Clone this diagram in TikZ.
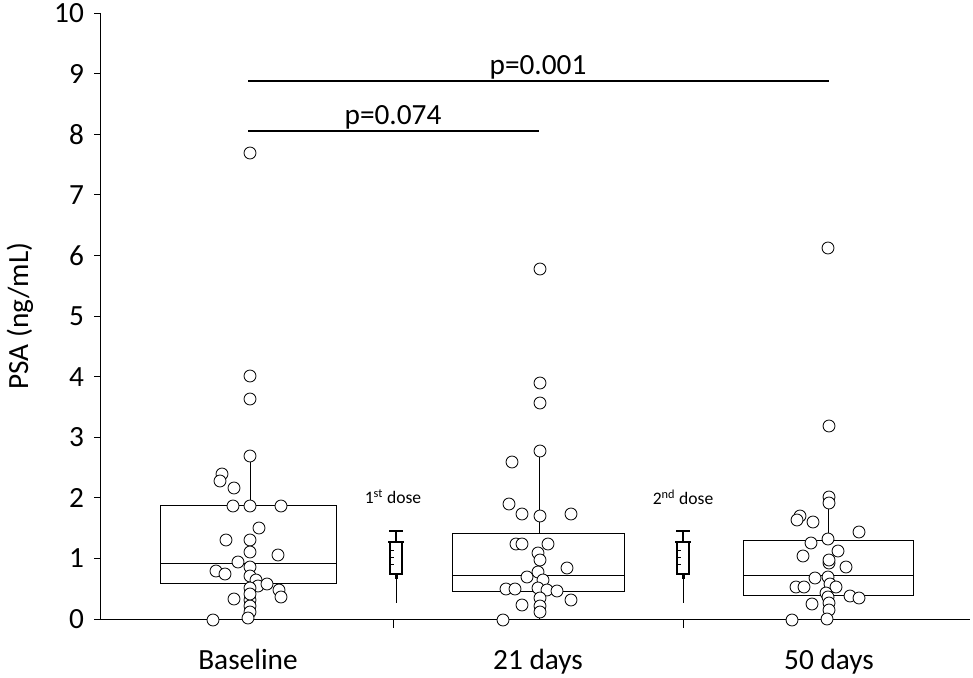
\documentclass[tikz,border=0pt]{standalone}
\usepackage{fontspec}
\setmainfont{Carlito}
\begin{document}
\begin{tikzpicture}[x=0.3mm,y=-0.3mm,
  pt/.style={circle,draw,fill=white,line width=0.7pt,minimum size=12*0.85pt,inner sep=0pt},
  ax/.style={line width=0.8pt},
  bx/.style={line width=0.8pt},
  lbl/.style={font=\fontsize{25}{28}\selectfont},
  dose/.style={font=\fontsize{15}{17}\selectfont}]
\useasboundingbox (0,0) rectangle (973,678);
% axes
\coordinate (o) at (100,619);
\coordinate (ytop) at (100,13);
\coordinate (xend) at (970,619);
\draw[ax] (ytop) -- (o) -- (xend);
\foreach \v in {0,...,10}{
  \draw[ax] (94,{619-60.6*\v}) -- (100,{619-60.6*\v});
  \node[lbl,anchor=east] (yt\v) at (88,{619-60.6*\v}) {\v};}
\foreach \x [count=\i] in {393,683}{\draw[ax] (\x,619) -- (\x,628);}
\node[lbl,anchor=base] (xl1) at (248,669) {Baseline};
\node[lbl,anchor=base] (xl2) at (538,669) {21 days};
\node[lbl,anchor=base] (xl3) at (829,669) {50 days};
\node[lbl,rotate=90] (ylab) at (20,316) {PSA (ng/mL)};
% significance
\coordinate (s1a) at (248,81); \coordinate (s1b) at (829,81);
\coordinate (s2a) at (248,131); \coordinate (s2b) at (539,131);
\draw[line width=1.6pt] (s1a) -- (s1b);
\draw[line width=1.6pt] (s2a) -- (s2b);
\node[lbl,anchor=base] (p1) at (538,75) {p=0.001};
\node[lbl,anchor=base] (p2) at (393,125) {p=0.074};
% boxes + whiskers
\draw[bx] (250,456) -- (250,619);
\draw[bx,fill=white] (160,505) rectangle (336,583); \draw[bx] (160,563) -- (336,563);
\draw[bx] (250,505) -- (250,456);
\draw[bx] (539,452) -- (539,619);
\draw[bx,fill=white] (452,533) rectangle (624,591); \draw[bx] (452,575) -- (624,575);
\draw[bx] (828,500) -- (828,619);
\draw[bx,fill=white] (743,540) rectangle (913,595); \draw[bx] (743,575) -- (913,575);
% points
\foreach \p in {(250,153),(250,376),(250,399),(250,456),(222,474),(220,481),(234,488),(233,506),(250,506),(281,506),(259,528),(226,540),(250,540),(250,552),(250,567),(278,555),(238,562),(216,571),(225,574),(250,576),(256,580),(258,586),(250,588),(267,584),(279,590),(281,597),(250,600),(250,606),(234,599),(250,612),(213,620),(248,618),(250,594)}
  \node[pt] at \p {};
\foreach \p in {(540,269),(540,383),(540,403),(512,462),(540,451),(509,504),(522,514),(540,516),(571,514),(516,544),(522,544),(548,544),(538,553),(540,560),(567,568),(538,572),(527,577),(543,580),(506,589),(515,589),(538,588),(547,590),(557,591),(571,600),(522,605),(540,598),(540,606),(540,612),(503,620)}
  \node[pt] at \p {};
\foreach \p in {(828,248),(829,426),(829,497),(829,503),(800,516),(797,520),(813,522),(859,532),(811,543),(828,539),(838,551),(803,556),(829,563),(829,560),(846,567),(815,578),(828,577),(830,584),(796,587),(804,587),(836,587),(826,593),(828,597),(850,596),(859,598),(812,604),(829,603),(829,610),(792,620),(827,619)}
  \node[pt] at \p {};
% doses
\node[dose] (d1) at (393,497) {1\textsuperscript{st} dose};
\node[dose] (d2) at (683,497) {2\textsuperscript{nd} dose};
\foreach \sx in {396,683}{
  \begin{scope}[shift={(\sx,0)}]
  \draw[line width=0.6pt] (0,578) -- (0,603);
  \fill (-1.5,573) rectangle (1.5,579);
  \draw[line width=0.9pt,fill=white] (-6,542) rectangle (6,574);
  \draw[line width=1.2pt] (-8,542) -- (8,542);
  \draw[line width=2pt] (0,542) -- (0,532);
  \draw[line width=2.2pt] (-7,531) -- (7,531);
  \foreach \t in {550,557,564}{\draw[line width=0.6pt] (-6,\t) -- (-2,\t);}
  \end{scope}}
\end{tikzpicture}
\end{document}
